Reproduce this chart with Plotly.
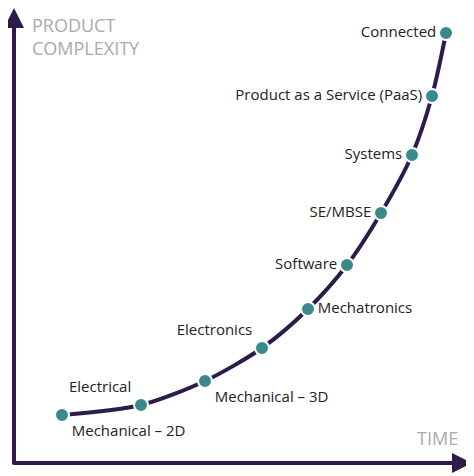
import plotly.graph_objects as go

labels = ["Mechanical – 2D", "Electrical", "Mechanical – 3D", "Electronics", "Mechatronics",
          "Software", "SE/MBSE", "Systems", "Product as a Service (PaaS)", "Connected"]
xs = [62, 141, 205, 262, 308, 347, 381, 412, 432, 446]
ys = [415, 405, 381, 348, 309, 265, 213, 155, 96, 33]
positions = ["bottom right", "top left", "bottom right", "top left", "middle right",
             "middle left", "middle left", "middle left", "middle left", "middle left"]

fig = go.Figure()
fig.add_trace(go.Scatter(x=xs, y=ys, mode="lines", line=dict(color="#2d1b4e", width=4, shape="spline", smoothing=0.8),
                         hoverinfo="skip", cliponaxis=False))
fig.add_trace(go.Scatter(x=xs, y=ys, mode="markers+text", text=labels, textposition=positions, cliponaxis=False,
                         marker=dict(size=14, color="#3a8a8c", line=dict(color="white", width=2)),
                         textfont=dict(family="Open Sans", size=15, color="#222")))

fig.add_annotation(x=14, y=8, ax=14, ay=466, xref="x", yref="y", axref="x", ayref="y",
                   showarrow=True, arrowhead=2, arrowsize=1, arrowwidth=4, arrowcolor="#2d1b4e", text="")
fig.add_annotation(x=472, y=463, ax=12, ay=463, xref="x", yref="y", axref="x", ayref="y",
                   showarrow=True, arrowhead=2, arrowsize=1, arrowwidth=4, arrowcolor="#2d1b4e", text="")
fig.add_annotation(x=30, y=36, xref="x", yref="y", text="PRODUCT<br>COMPLEXITY", showarrow=False,
                   xanchor="left", yanchor="middle", align="left",
                   font=dict(family="Open Sans", size=18, color="#aaaaaa"))
fig.add_annotation(x=460, y=438, xref="x", yref="y", text="TIME", showarrow=False,
                   xanchor="right", yanchor="middle",
                   font=dict(family="Open Sans", size=18, color="#aaaaaa"))

fig.update_xaxes(range=[8, 482], visible=False)
fig.update_yaxes(range=[484, 8], visible=False)
fig.update_layout(width=474, height=476, margin=dict(l=0, r=0, t=0, b=0),
                  plot_bgcolor="white", paper_bgcolor="white", showlegend=False)
fig.write_html("out.html")
